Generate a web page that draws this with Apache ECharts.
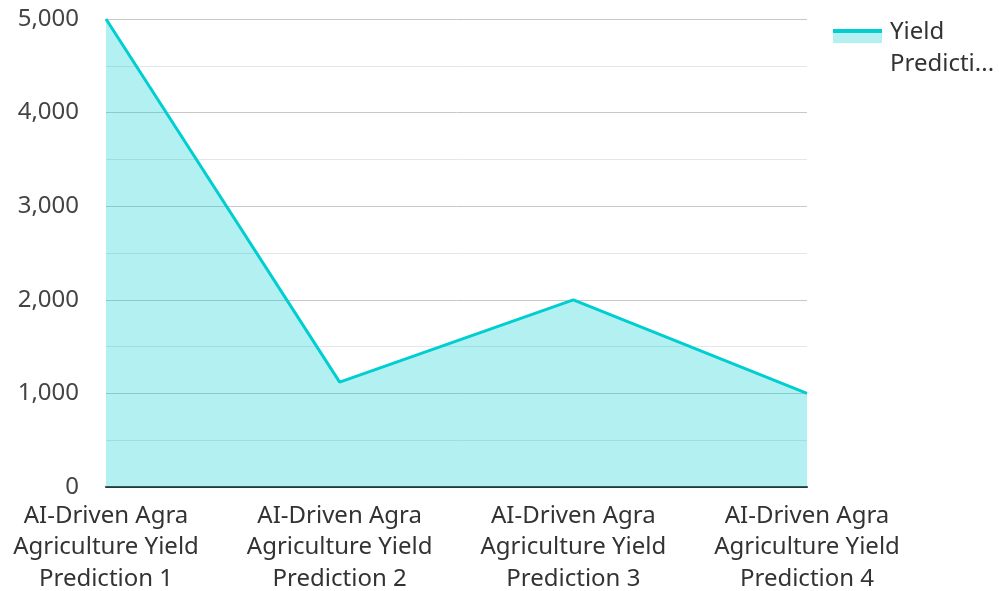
<!DOCTYPE html>
<html>
<head>
<meta charset="utf-8">
<script src="https://cdn.jsdelivr.net/npm/echarts@6/dist/echarts.min.js"></script>
<style>html,body{margin:0;padding:0;background:#fff;}#c{width:999px;height:591px;}</style>
</head>
<body>
<div id="c"></div>
<script>
var categories = [
  'AI-Driven Agra Agriculture Yield Prediction 1',
  'AI-Driven Agra Agriculture Yield Prediction 2',
  'AI-Driven Agra Agriculture Yield Prediction 3',
  'AI-Driven Agra Agriculture Yield Prediction 4'
];
var seriesName = 'Yield Prediction';
var yieldValues = [5000, 1120, 2000, 1000];
var yTicks = [0, 1000, 2000, 3000, 4000, 5000];

var lineColor = '#00CED1';
var areaColor = 'rgba(0,206,209,0.3)';
var font = 'Noto Sans';

var chart = echarts.init(document.getElementById('c'));
chart.setOption({
  animation: false,
  grid: { left: 106, right: 192, top: 19, bottom: 104, containLabel: false, outerBoundsMode: 'none' },
  legend: {
    orient: 'vertical',
    left: 833,
    top: -8,
    padding: 0,
    itemWidth: 49,
    itemHeight: 14,
    itemGap: 10,
    icon: 'rect',
    formatter: function () { return '{s| }\n{a|Yield}\n{a|Predicti...}'; },
    itemStyle: {
      color: new echarts.graphic.LinearGradient(0, 0, 0, 1, [
        { offset: 0, color: lineColor },
        { offset: 0.28, color: lineColor },
        { offset: 0.28, color: '#B2F0F1' },
        { offset: 1, color: '#B2F0F1' }
      ])
    },
    lineStyle: { width: 0, opacity: 0 },
    textStyle: {
      fontFamily: font, fontSize: 24, color: '#333', lineHeight: 32,
      rich: {
        s: { fontSize: 2, lineHeight: 24 },
        a: { fontFamily: font, fontSize: 24, color: '#333', lineHeight: 32, padding: [0, 0, 0, 3] }
      }
    }
  },
  xAxis: {
    type: 'category',
    data: categories,
    boundaryGap: false,
    axisLine: { show: true, lineStyle: { color: '#333', width: 2 } },
    axisTick: { show: false },
    splitLine: { show: false },
    axisLabel: {
      fontFamily: font, fontSize: 24, color: '#333', lineHeight: 31.5, margin: 13,
      interval: 0, align: 'center',
      formatter: function (v) { return v.replace('Agra ', 'Agra\n').replace('Yield ', 'Yield\n'); }
    }
  },
  yAxis: {
    type: 'value',
    min: yTicks[0],
    max: yTicks[yTicks.length - 1],
    interval: 1000,
    axisLine: { show: false },
    axisTick: { show: false },
    axisLabel: {
      fontFamily: font, fontSize: 24, color: '#444', margin: 27,
      formatter: function (v) { return v.toLocaleString('en-US'); }
    },
    splitLine: { show: true, lineStyle: { color: '#c8c8c8', width: 1 } },
    minorTick: { show: false, splitNumber: 2 },
    minorSplitLine: { show: true, lineStyle: { color: '#e6e6e6', width: 1 } }
  },
  series: [{
    name: seriesName,
    type: 'line',
    data: yieldValues,
    showSymbol: false,
    symbol: 'none',
    lineStyle: { color: lineColor, width: 3 },
    itemStyle: { color: lineColor },
    areaStyle: { color: areaColor, opacity: 1 }
  }]
});
</script>
</body>
</html>
